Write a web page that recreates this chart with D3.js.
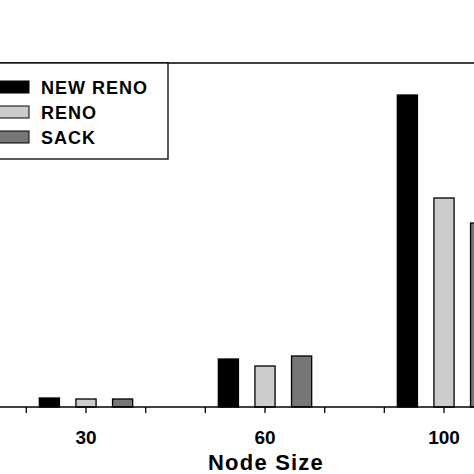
<!DOCTYPE html>
<html><head><meta charset="utf-8">
<script src="https://cdn.jsdelivr.net/npm/d3@7"></script>
<style>body{margin:0;background:#fff}</style>
</head><body>
<svg id="chart" width="474" height="474"></svg>
<script>
var categories = ["30", "60", "100"];
var seriesNames = ["NEW RENO", "RENO", "SACK"];
var newReno = [9, 48, 312];
var reno = [8, 41, 209];
var sack = [8, 51, 184];
var colors = ["#000000", "#cccccc", "#777777"];

var series = [newReno, reno, sack];
var svg = d3.select("#chart");
var baseY = 407, topY = 63;
var font = "'Liberation Sans', Arial, sans-serif";

var x = d3.scaleBand().domain(categories).range([-3.5, 533.5]);
var inner = d3.scaleBand().domain(seriesNames).range([-54, 54]).paddingInner(0.45).paddingOuter(0.2);
var y = d3.scaleLinear().domain([0, 344]).range([baseY, topY]);

// top frame line
svg.append("line").attr("x1", 0).attr("x2", 474).attr("y1", topY).attr("y2", topY)
  .attr("stroke", "#000").attr("stroke-width", 1.5);

// bars
categories.forEach(function (c, i) {
  var cx = x(c) + x.bandwidth() / 2;
  seriesNames.forEach(function (s, j) {
    svg.append("rect")
      .attr("x", cx + inner(s))
      .attr("y", y(series[j][i]))
      .attr("width", inner.bandwidth())
      .attr("height", baseY - y(series[j][i]))
      .attr("fill", colors[j])
      .attr("stroke", "#000").attr("stroke-width", 1.3);
  });
});

// x axis
svg.append("line").attr("x1", 0).attr("x2", 474).attr("y1", baseY).attr("y2", baseY)
  .attr("stroke", "#000").attr("stroke-width", 1.5);
var tickOffsets = [-59.7, 0, 59.7];
categories.forEach(function (c) {
  var cx = x(c) + x.bandwidth() / 2;
  tickOffsets.forEach(function (o) {
    svg.append("line").attr("x1", cx + o).attr("x2", cx + o)
      .attr("y1", baseY).attr("y2", baseY + 6)
      .attr("stroke", "#000").attr("stroke-width", 1.3);
  });
  svg.append("text").attr("x", cx).attr("y", 444)
    .attr("text-anchor", "middle").attr("font-family", font)
    .attr("font-weight", "bold").attr("font-size", 19).text(c);
});
svg.append("text").attr("x", 266).attr("y", 470)
  .attr("text-anchor", "middle").attr("font-family", font)
  .attr("font-weight", "bold").attr("font-size", 22).attr("letter-spacing", 1.2).text("Node Size");

// legend
svg.append("rect").attr("x", -5).attr("y", topY).attr("width", 173).attr("height", 96)
  .attr("fill", "#fff").attr("stroke", "#000").attr("stroke-width", 1.3);
seriesNames.forEach(function (s, j) {
  var ly = 81 + j * 25;
  svg.append("rect").attr("x", -5).attr("y", ly).attr("width", 34).attr("height", 12)
    .attr("fill", colors[j]).attr("stroke", "#000").attr("stroke-width", 1);
  svg.append("text").attr("x", 41).attr("y", ly + 13)
    .attr("font-family", font).attr("font-weight", "bold").attr("font-size", 18)
    .attr("letter-spacing", 1).text(s);
});
</script>
</body></html>
